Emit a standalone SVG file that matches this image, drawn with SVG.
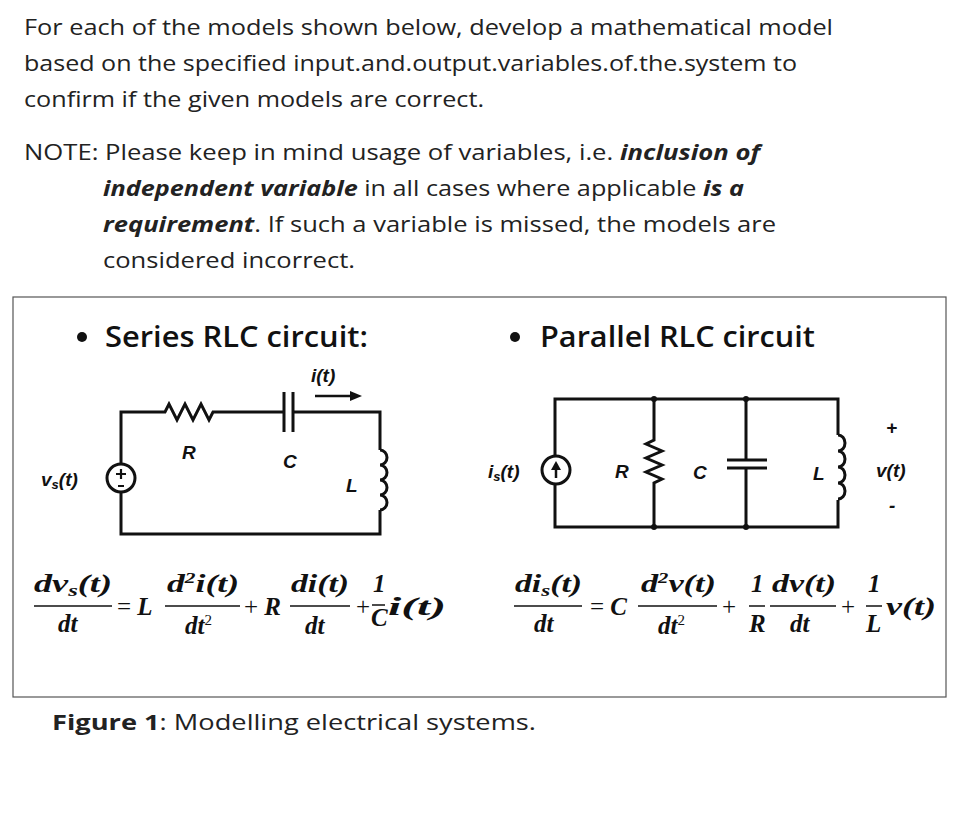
<svg xmlns="http://www.w3.org/2000/svg" width="954" height="820" viewBox="0 0 954 820">
<style>
.t{font-family:"Open Sans","Liberation Sans",sans-serif;font-size:22px;fill:#222}
.h{font-family:"Open Sans","Liberation Sans",sans-serif;font-size:28px;font-weight:600;fill:#111}
.w{fill:none;stroke:#111;stroke-width:3}
.lb{font-family:"Liberation Sans",Arial,sans-serif;font-size:19px;font-weight:bold;font-style:italic;fill:#111}
.m{font-family:"Liberation Serif","DejaVu Serif",serif;font-size:25px;font-weight:bold;font-style:italic;fill:#111}
.mn{font-family:"Liberation Serif","DejaVu Serif",serif;font-size:25px;fill:#111}
.fl{stroke:#111;stroke-width:1.5}
</style>
<rect width="954" height="820" fill="#fff"/>
<g id="text">
<text class="t" x="24" y="35" textLength="809" lengthAdjust="spacingAndGlyphs">For each of the models shown below, develop a mathematical model</text>
<text class="t" x="24" y="71" textLength="773" lengthAdjust="spacingAndGlyphs">based on the specified input.and.output.variables.of.the.system to</text>
<text class="t" x="24" y="107" textLength="460" lengthAdjust="spacingAndGlyphs">confirm if the given models are correct.</text>
<text class="t" x="24" y="160" textLength="736" lengthAdjust="spacingAndGlyphs">NOTE: Please keep in mind usage of variables, i.e. <tspan font-weight="bold" font-style="italic">inclusion of</tspan></text>
<text class="t" x="103" y="196" textLength="641" lengthAdjust="spacingAndGlyphs"><tspan font-weight="bold" font-style="italic">independent variable</tspan> in all cases where applicable <tspan font-weight="bold" font-style="italic">is a</tspan></text>
<text class="t" x="103" y="232" textLength="673" lengthAdjust="spacingAndGlyphs"><tspan font-weight="bold" font-style="italic">requirement</tspan>. If such a variable is missed, the models are</text>
<text class="t" x="103" y="268" textLength="252" lengthAdjust="spacingAndGlyphs">considered incorrect.</text>
<text class="t" x="52" y="730" textLength="484" lengthAdjust="spacingAndGlyphs"><tspan font-weight="bold">Figure 1</tspan>: Modelling electrical systems.</text>
</g>
<rect x="13" y="297" width="933" height="400" fill="none" stroke="#555" stroke-width="1.2"/>
<g id="series">
<circle cx="82" cy="337" r="5" fill="#111"/>
<text class="h" x="105" y="347" textLength="263" lengthAdjust="spacingAndGlyphs">Series RLC circuit:</text>
<path class="w" d="M121 464 V412 H165 l4 -8 l8 16 l8 -16 l8 16 l8 -16 l8 16 l4 -8 H284 M293 412 H380 V450 M380 510 V534 H121 V492"/>
<path class="w" d="M284 392 V432 M293 392 V432"/>
<path class="w" d="M380 450 a7 7.5 0 0 1 0 15 a7 7.5 0 0 1 0 15 a7 7.5 0 0 1 0 15 a7 7.5 0 0 1 0 15"/>
<circle class="w" cx="121" cy="478" r="14"/>
<path d="M116 474 H126 M121 469 V479 M118 486 H124" stroke="#111" stroke-width="2.2"/>
<text class="lb" x="41" y="486">v<tspan font-size="13" dy="3">s</tspan><tspan dy="-3">(t)</tspan></text>
<text class="lb" x="182" y="459">R</text>
<text class="lb" x="283" y="468">C</text>
<text class="lb" x="346" y="492">L</text>
<text class="lb" x="311" y="382">i(t)</text>
<line x1="315" y1="396" x2="352" y2="396" stroke="#111" stroke-width="2.5"/>
<path d="M362 396 L350 391 L350 401 Z" fill="#111"/>
<text class="m" x="34" y="592" textLength="78" lengthAdjust="spacingAndGlyphs">dv<tspan font-size="17" dy="4">s</tspan><tspan dy="-4">(t)</tspan></text>
<line class="fl" x1="34" y1="606" x2="112" y2="606"/>
<text class="m" x="58" y="632">dt</text>
<text class="mn" x="117" y="615">= <tspan class="m">L</tspan></text>
<text class="m" x="167" y="592" textLength="72" lengthAdjust="spacingAndGlyphs">d<tspan font-size="15" dy="-9">2</tspan><tspan dy="9">i(t)</tspan></text>
<line class="fl" x1="165" y1="606" x2="240" y2="606"/>
<text class="m" x="185" y="634">dt<tspan font-size="15" font-style="normal" font-weight="normal" dy="-9">2</tspan></text>
<text class="mn" x="244" y="615">+ <tspan class="m">R</tspan></text>
<text class="m" x="291" y="592" textLength="58" lengthAdjust="spacingAndGlyphs">di(t)</text>
<line class="fl" x1="290" y1="606" x2="350" y2="606"/>
<text class="m" x="305" y="634">dt</text>
<text class="mn" x="356" y="615">+</text>
<text class="m" x="373" y="592" font-style="normal" font-size="20">1</text>
<line class="fl" x1="372" y1="605" x2="385" y2="605"/>
<text class="m" x="371" y="626" font-size="20">C</text>
<text class="m" x="388" y="615" textLength="58" lengthAdjust="spacingAndGlyphs">i(t)</text>
</g>
<g id="parallel">
<circle cx="515" cy="337" r="5" fill="#111"/>
<text class="h" x="540" y="347" textLength="275" lengthAdjust="spacingAndGlyphs">Parallel RLC circuit</text>
<path class="w" d="M555 456 V399 H838 V435 M838 500 V527 H555 V484"/>
<path class="w" d="M654 399 V440 l-8 4 l16 7 l-16 7 l16 7 l-16 7 l16 7 l-8 4 V527"/>
<path class="w" d="M746 399 V460 M746 468 V527 M727 460 H767 M727 468 H767"/>
<path class="w" d="M838 435 a7 8 0 0 1 0 16 a7 8 0 0 1 0 16 a7 8 0 0 1 0 16 a7 8 0 0 1 0 16"/>
<circle cx="654" cy="399" r="3" fill="#111"/><circle cx="746" cy="399" r="3" fill="#111"/>
<circle cx="654" cy="527" r="3" fill="#111"/><circle cx="746" cy="527" r="3" fill="#111"/>
<circle class="w" cx="556" cy="470" r="14"/>
<line x1="556" y1="478" x2="556" y2="468" stroke="#111" stroke-width="2.5"/>
<path d="M556 461 L551 470 L561 470 Z" fill="#111"/>
<text class="lb" x="488" y="478">i<tspan font-size="13" dy="3">s</tspan><tspan dy="-3">(t)</tspan></text>
<text class="lb" x="615" y="478">R</text>
<text class="lb" x="693" y="479">C</text>
<text class="lb" x="813" y="480">L</text>
<text class="lb" x="886" y="434" font-style="normal">+</text>
<text class="lb" x="876" y="477">v(t)</text>
<text class="lb" x="889" y="512" font-style="normal">-</text>
<text class="m" x="515" y="592" textLength="67" lengthAdjust="spacingAndGlyphs">di<tspan font-size="17" dy="4">s</tspan><tspan dy="-4">(t)</tspan></text>
<line class="fl" x1="514" y1="606" x2="582" y2="606"/>
<text class="m" x="534" y="632">dt</text>
<text class="mn" x="590" y="615">= <tspan class="m">C</tspan></text>
<text class="m" x="641" y="592" textLength="75" lengthAdjust="spacingAndGlyphs">d<tspan font-size="15" dy="-9">2</tspan><tspan dy="9">v(t)</tspan></text>
<line class="fl" x1="638" y1="606" x2="717" y2="606"/>
<text class="m" x="658" y="634">dt<tspan font-size="15" font-style="normal" font-weight="normal" dy="-9">2</tspan></text>
<text class="mn" x="722" y="615" fill="#7a8a6a">+</text>
<text class="m" x="751" y="592" font-style="normal">1</text>
<line class="fl" x1="749" y1="606" x2="765" y2="606"/>
<text class="m" x="749" y="632">R</text>
<text class="m" x="772" y="592" textLength="64" lengthAdjust="spacingAndGlyphs">dv(t)</text>
<line class="fl" x1="770" y1="606" x2="836" y2="606"/>
<text class="m" x="790" y="632">dt</text>
<text class="mn" x="841" y="615">+</text>
<text class="m" x="868" y="592" font-style="normal">1</text>
<line class="fl" x1="866" y1="606" x2="882" y2="606"/>
<text class="m" x="866" y="632">L</text>
<text class="m" x="886" y="615" textLength="50" lengthAdjust="spacingAndGlyphs">v(t)</text>
</g>
</svg>
